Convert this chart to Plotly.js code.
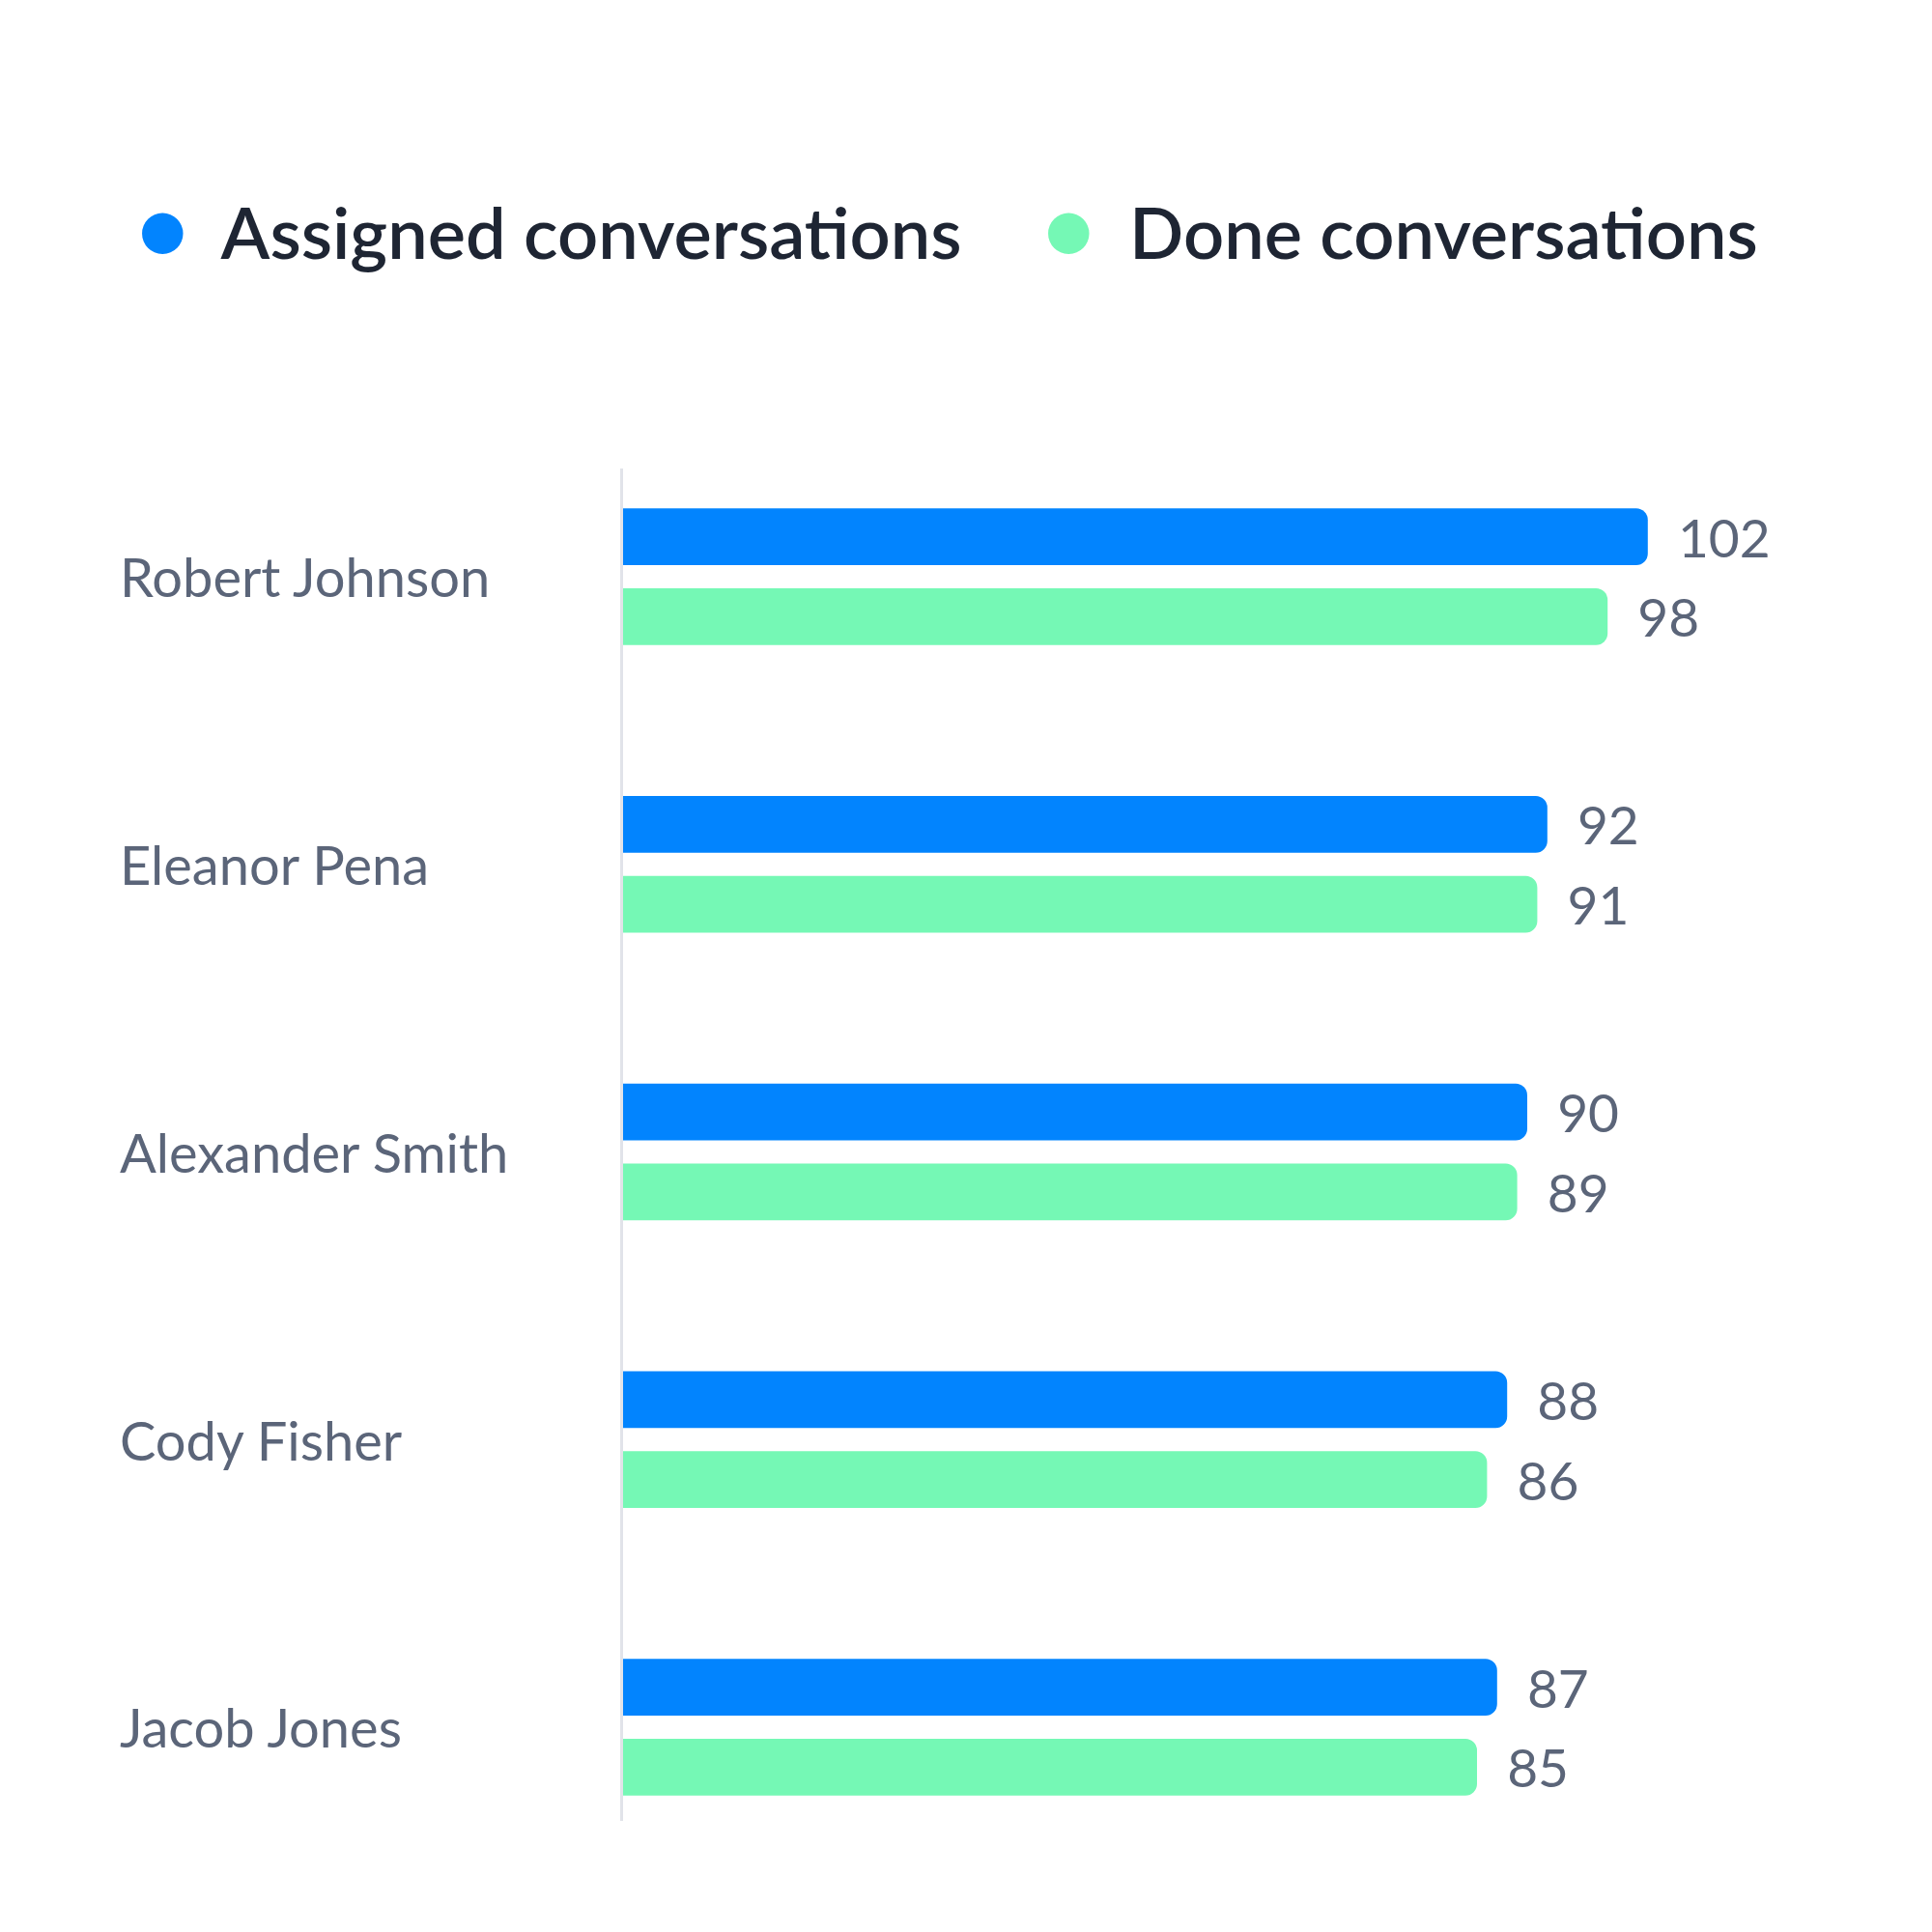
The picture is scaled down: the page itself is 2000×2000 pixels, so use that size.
<!DOCTYPE html>
<html>
<head>
<meta charset="utf-8">
<script src="https://cdn.plot.ly/plotly-3.0.1.min.js"></script>
<style>html,body{margin:0;padding:0;background:#fff;}</style>
</head>
<body>
<div id="chart" style="width:2000px;height:2000px;"></div>
<script>
const agents = ["Robert Johnson", "Eleanor Pena", "Alexander Smith", "Cody Fisher", "Jacob Jones"];
const assigned = [102, 92, 90, 88, 87];
const done = [98, 91, 89, 86, 85];
const seriesNames = ["Assigned conversations", "Done conversations"];
const colors = ["#0284FE", "#75F8B5"];

const labelColor = "#5B6579";
const font = "Lato, 'Open Sans', sans-serif";
const pad = "\u00A0\u00A0";

function barTrace(vals, i) {
  return {
    type: "bar",
    orientation: "h",
    y: agents,
    x: vals,
    name: seriesNames[i],
    showlegend: false,
    marker: {color: colors[i], cornerradius: 12},
    text: vals.map(v => pad + v),
    textposition: "outside",
    textfont: {family: font, size: 55, color: labelColor},
    constraintext: "none",
    cliponaxis: false,
    hoverinfo: "skip"
  };
}

function legendTrace(i) {
  return {
    type: "scatter",
    mode: "markers",
    x: [null],
    y: [null],
    name: '<span style="color:' + colors[i] + ';font-size:86px">●</span>\u00A0\u00A0' + seriesNames[i],
    marker: {color: "rgba(0,0,0,0)", opacity: 0, size: 0, line: {width: 0}},
    showlegend: true,
    hoverinfo: "skip"
  };
}

const data = [barTrace(assigned, 0), barTrace(done, 1), legendTrace(0), legendTrace(1)];

const annotations = agents.map(a => ({
  xref: "paper", yref: "y",
  x: -0.4187, y: a,
  xanchor: "left", yanchor: "middle",
  text: a, showarrow: false,
  font: {family: font, size: 56, color: labelColor}
}));

const layout = {
  width: 2000, height: 2000, autosize: false,
  paper_bgcolor: "#fff", plot_bgcolor: "#fff",
  margin: {l: 645, r: 107, t: 485, b: 115},
  barmode: "group",
  bargap: 0.444,
  bargroupgap: 0.29,
  font: {family: font},
  xaxis: {range: [0, 120], showgrid: false, zeroline: false, showticklabels: false, ticks: "", showline: false, fixedrange: true},
  yaxis: {type: "category", range: [4.326, -0.376], showgrid: false, zeroline: false, showticklabels: false, ticks: "",
          showline: true, linecolor: "#E1E3E9", linewidth: 3, fixedrange: true},
  showlegend: true,
  legend: {
    orientation: "h", x: -0.4346, xanchor: "left", y: 1.1756, yanchor: "middle",
    font: {family: font, size: 74, color: "#1E2533", weight: 600},
    itemwidth: 30, entrywidth: 893, entrywidthmode: "pixels",
    bgcolor: "rgba(0,0,0,0)"
  },
  annotations: annotations
};

Plotly.newPlot("chart", data, layout, {displayModeBar: false, staticPlot: true});
</script>
</body>
</html>
